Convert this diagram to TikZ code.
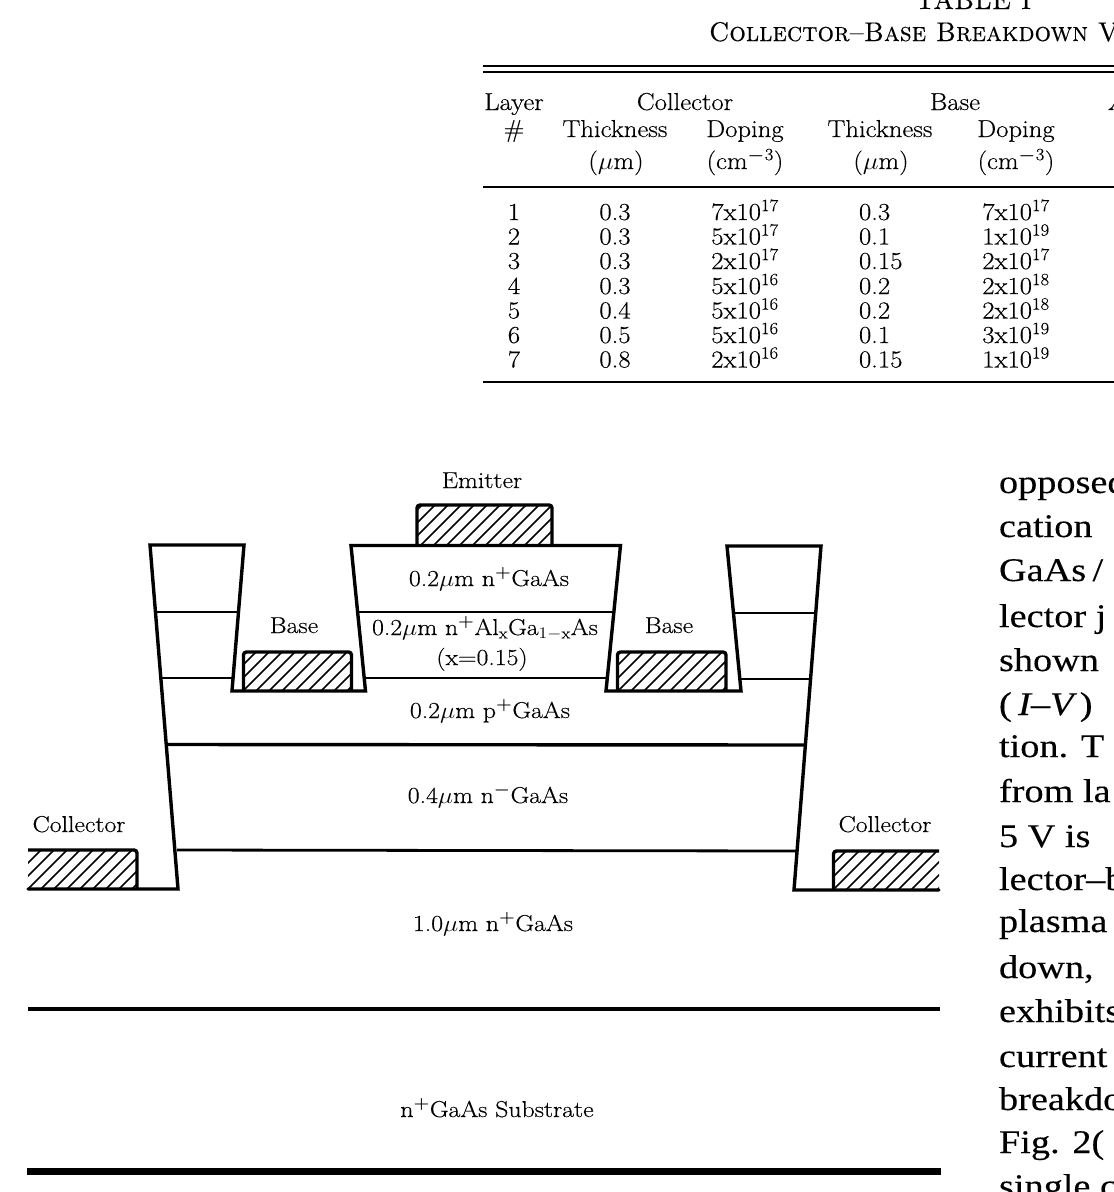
\RequirePackage{fix-cm}
\documentclass[tikz,border=0pt]{standalone}
\usepackage{fontspec}
\setmainfont{Latin Modern Roman}[FakeBold=0.35]
\newfontfamily\bodyfont{Liberation Serif}[Ligatures=TeX,FakeBold=0.2]
\newfontfamily\capsfont{Latin Modern Roman Caps}[Ligatures=TeX,FakeBold=0.35]
\newcommand{\um}{$\mu$m}
\newcommand{\pl}{{\boldmath$^{+}$}}
\newcommand{\mn}{{\boldmath$^{-}$}}
\tikzset{
  lbl/.style={inner sep=0pt,outer sep=0pt,anchor=base,font=\fontsize{23}{24}\selectfont,xscale=1.12,transform shape},
  tb/.style={inner sep=0pt,outer sep=0pt,anchor=base,font=\fontsize{24.5}{25}\selectfont,xscale=1.09,transform shape},
  ttl/.style={inner sep=0pt,outer sep=0pt,anchor=base west,font=\capsfont\fontsize{27}{28}\selectfont,xscale=0.96,transform shape},
  body/.style={inner sep=0pt,outer sep=0pt,anchor=base west,font=\bodyfont\fontsize{33}{36}\selectfont,xscale=1.16,transform shape},
  rulestyle/.style={line width=2.4pt,line cap=butt},
  wall/.style={line width=3.4pt,line join=miter,line cap=round},
  layer/.style={line width=2.8pt},
  contact/.style={line width=3.4pt,rounded corners=3pt,line cap=butt},
  hatchline/.style={line width=1.5pt}
}
\newcommand{\hatch}[5]{%
  \begin{scope}
    \clip (#1,#2) rectangle (#3,#4);
    \foreach \a in {#5} { \draw[hatchline] (\a,#4) -- ++(70,-70); }
  \end{scope}}
\newcommand{\sps}[1]{\textsuperscript{#1}}
\begin{document}
\begin{tikzpicture}[x=1pt,y=-1pt]
\useasboundingbox (0,0) rectangle (1114,1192);
\clip (0,0) rectangle (1114,1192);
\fill[white] (0,0) rectangle (1114,1192);

% ---- table
\node[ttl] (title1) at (915,9) {TABLE I};
\node[ttl] (title2) at (709,41) {Collector--Base Breakdown Voltage};
\draw[rulestyle] (483,66) -- (1114,66);
\draw[rulestyle] (483,72) -- (1114,72);
\draw[rulestyle] (483,187) -- (1114,187);
\draw[rulestyle] (483,382) -- (1114,382);

\node[tb] (hLayer) at (514,110) {Layer};
\node[tb] (hColl) at (685,110) {Collector};
\node[tb] (hBase) at (955,110) {Base};
\node[tb,anchor=base west] (hA) at (1107,110) {\itshape A};
\node[tb] (hNum) at (514,137) {\#};
\node[tb] (hT1) at (615,137) {Thickness};
\node[tb] (hD1) at (745,137) {Doping};
\node[tb] (hT2) at (880,137) {Thickness};
\node[tb] (hD2) at (1016,137) {Doping};
\node[tb] (hU1) at (616,169) {(\um)};
\node[tb] (hU2) at (745,169) {(cm\mn\sps{3})};
\node[tb] (hU3) at (881,169) {(\um)};
\node[tb] (hU4) at (1016,169) {(cm\mn\sps{3})};

\foreach \n/\y/\ct/\cd/\bt/\bd in {
 1/220/0.3/7x10\sps{17}/0.3/7x10\sps{17},
 2/244.5/0.3/5x10\sps{17}/0.1/1x10\sps{19},
 3/269/0.3/2x10\sps{17}/0.15/2x10\sps{17},
 4/294/0.3/5x10\sps{16}/0.2/2x10\sps{18},
 5/318.5/0.4/5x10\sps{16}/0.2/2x10\sps{18},
 6/343/0.5/5x10\sps{16}/0.1/3x10\sps{19},
 7/367.5/0.8/2x10\sps{16}/0.15/1x10\sps{19}}{
  \node[tb] (r\n a) at (514,\y) {\n};
  \node[tb] (r\n b) at (615,\y) {\ct};
  \node[tb] (r\n c) at (745,\y) {\cd};
  \node[tb,anchor=base west] (r\n d) at (859,\y) {\bt};
  \node[tb] (r\n e) at (1016,\y) {\bd};
}

% ---- hatching of the contacts
\hatch{417}{505}{552}{545}{330,343,...,560}
\hatch{243}{652}{352}{691}{165,178,...,360}
\hatch{617}{652}{726}{691}{540,553,...,735}
\hatch{28}{850}{137}{889}{-50,-37,...,145}
\hatch{833}{851}{939}{890}{755,768,...,945}

% ---- contacts
\draw[contact] (417,545) -- (417,505) -- (552,505) -- (552,545);
\draw[contact] (243.5,691) -- (243.5,652) -- (351.5,652) -- (351.5,691);
\draw[contact] (617.5,691) -- (617.5,652) -- (726,652) -- (726,691);
\draw[contact] (28,850) -- (137,850) -- (137,889);
\draw[contact] (833.5,890) -- (833.5,851) -- (939,851);

% ---- mesa outline
\draw[wall] (28,889) -- (178,889) -- (150,545) -- (244,545) -- (232,691) -- (365.5,691) -- (351,545.5) -- (620.5,545.5) -- (606,691) -- (741,691) -- (727,546) -- (821,546) -- (794,890) -- (939,890);

% ---- layer lines
\draw[layer] (156,612) -- (238,612);
\draw[layer] (162,678) -- (232,678);
\draw[layer] (358,612) -- (612.5,612);
\draw[layer] (365,678) -- (606,678);
\draw[layer] (735,613) -- (815,613);
\draw[layer] (740,679) -- (809,679);
\draw[line width=3.4pt] (168,744.5) -- (805,745);
\draw[layer] (177,850) -- (797,851);
\draw[line width=3.8pt] (28,1009) -- (940,1009);
\draw[line width=6.6pt] (27,1171.5) -- (941,1171.5);

% ---- labels
\node[lbl] (emitter) at (482,488) {Emitter};
\node[lbl] (nGaAs) at (489,586) {0.2\um\ n\pl GaAs};
\node[lbl] (baseL) at (294,633) {Base};
\node[lbl] (baseR) at (669,633) {Base};
\node[lbl] (AlGaAs) at (485,635) {0.2\um\ n\pl Al$_{\mathrm{x}}$Ga$_{1-\mathrm{x}}$As};
\node[lbl] (xval) at (482,665) {(x=0.15)};
\node[lbl] (pGaAs) at (490,718) {0.2\um\ p\pl GaAs};
\node[lbl] (nminus) at (488,803) {0.4\um\ n\mn GaAs};
\node[lbl] (collL) at (79,832) {Collector};
\node[lbl] (collR) at (885,832) {Collector};
\node[lbl] (nOne) at (493,931) {1.0\um\ n\pl GaAs};
\node[lbl] (subst) at (497,1117) {n\pl GaAs Substrate};

% ---- body text
\foreach \i/\y/\t in {
 1/493/opposed, 2/537/cation, 3/581/{GaAs\,/}, 4/627/lector j, 5/671/shown,
 6/715/(\,{\itshape I--V}\,), 7/757/tion. T, 8/802/from la, 9/847/5 V is,
 10/890/lector--b, 11/932/plasma, 12/978/{down,}, 13/1022/exhibits, 14/1067/current,
 15/1110/breakdo, 16/1153/Fig. 2(, 17/1197/single c}{
  \node[body] (line\i) at (999,\y) {\t};
}
\end{tikzpicture}
\end{document}
